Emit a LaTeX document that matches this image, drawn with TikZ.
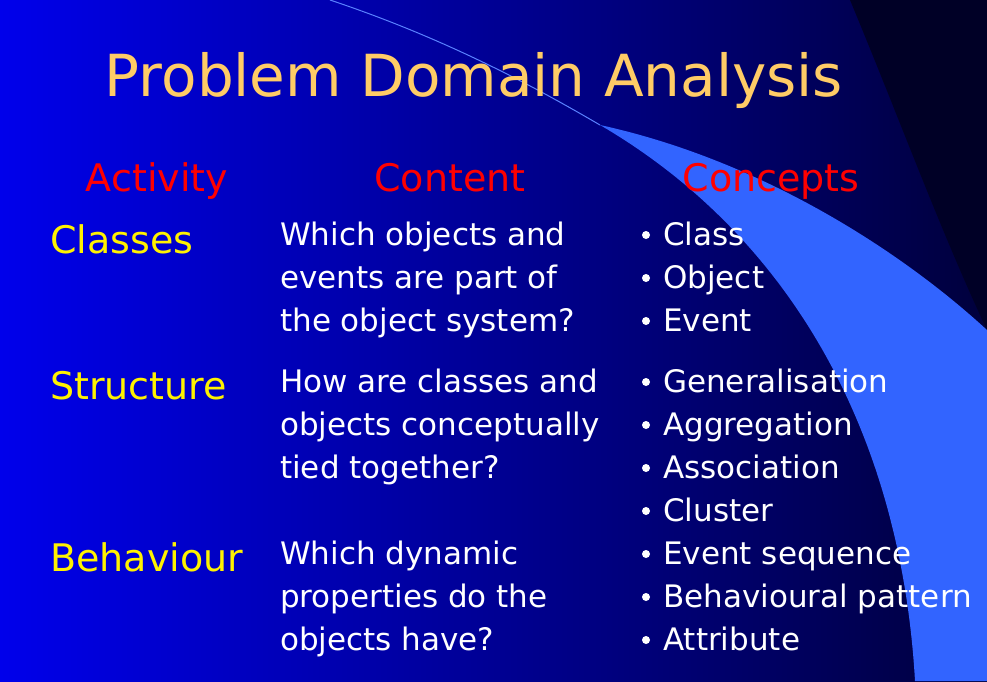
\documentclass[tikz,border=0pt]{standalone}
\usepackage{fontspec}
\setmainfont{DejaVu Sans}
\definecolor{bgl}{RGB}{0,0,235}
\definecolor{bgr}{RGB}{0,0,60}
\definecolor{swoosh}{RGB}{50,100,255}
\definecolor{hl}{RGB}{90,130,255}
\definecolor{gold}{RGB}{255,204,102}
\begin{document}
\begin{tikzpicture}[x=1pt,y=-1pt,
  txt/.style={anchor=base west,inner sep=0pt,font=\fontsize{31}{36}\selectfont,text=white},
  head/.style={anchor=base,inner sep=0pt,font=\fontsize{38}{42}\selectfont,text=red},
  act/.style={anchor=base west,inner sep=0pt,font=\fontsize{38}{42}\selectfont,text=yellow},
  bul/.style={circle,fill=white,inner sep=0pt,minimum size=8pt}]
\useasboundingbox (0,0) rectangle (987,681);
\shade[left color=bgl, right color=bgr] (0,0) rectangle (987,681);
\fill[black!85!blue] (850,0) -- (987,0) -- (987,330) .. controls (940,230) and (900,120) .. (850,0);
\fill[swoosh] (600,125) .. controls (760,160) and (900,250) .. (987,330) -- (987,681) -- (915,681) .. controls (900,420) and (780,230) .. (600,125);
\draw[hl,line width=1pt] (330,0) .. controls (450,40) and (540,90) .. (600,125);
\node[anchor=base,inner sep=0pt,font=\fontsize{58}{62}\selectfont,text=gold] (title) at (474,96) {Problem Domain Analysis};
\node[head] (h1) at (157,191) {Activity};
\node[head] (h2) at (450,191) {Content};
\node[head] (h3) at (771,191) {Concepts};
\node[act] (a1) at (50,253) {Classes};
\node[act] (a2) at (50,399) {Structure};
\node[act] (a3) at (50,571) {Behaviour};
\node[txt] (c1) at (280,245) {Which objects and};
\node[txt] (c2) at (280,288) {events are part of};
\node[txt] (c3) at (280,331) {the object system?};
\node[txt] (c4) at (280,392) {How are classes and};
\node[txt] (c5) at (280,435) {objects conceptually};
\node[txt] (c6) at (280,478) {tied together?};
\node[txt] (c7) at (280,564) {Which dynamic};
\node[txt] (c8) at (280,607) {properties do the};
\node[txt] (c9) at (280,650) {objects have?};
\foreach \t/\y [count=\i] in {Class/245,Object/288,Event/331,Generalisation/392,Aggregation/435,Association/478,Cluster/521,Event sequence/564,Behavioural pattern/607,Attribute/650}{
  \node[bul] (b\i) at (646,\y-10) {};
  \node[txt] (k\i) at (663,\y) {\t};
}
\end{tikzpicture}
\end{document}
